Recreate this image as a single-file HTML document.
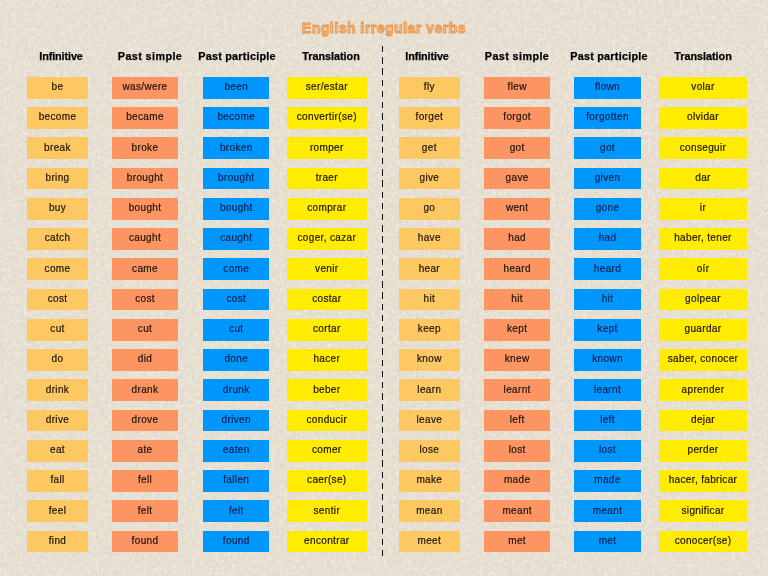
<!DOCTYPE html>
<html><head><meta charset="utf-8"><style>
html,body{margin:0;padding:0;}
body{width:768px;height:576px;position:relative;overflow:hidden;-webkit-font-smoothing:antialiased;background:#e5ddcf;font-family:"Liberation Sans",sans-serif;}
.bg{position:absolute;left:0;top:0;width:768px;height:576px;}
.b{position:absolute;height:21.8px;}
.b span{will-change:transform;position:absolute;left:-10px;right:-10px;text-align:center;font-size:10px;line-height:10px;top:5.4px;color:#1e140c;-webkit-text-stroke:0.2px #1e140c;white-space:nowrap;letter-spacing:0.35px;}
.i{background:#fdc862;}
.s{background:#fc9562;}
.p{background:#0097fd;}
.p span{color:#082050;-webkit-text-stroke:0.2px #082050;}
.t{background:#ffec00;}
.h{will-change:transform;position:absolute;top:50px;width:120px;text-align:center;font-weight:bold;font-size:10.8px;line-height:12px;color:#000;-webkit-text-stroke:0.25px #000;white-space:nowrap;letter-spacing:-0.45px;}
.title{will-change:transform;position:absolute;left:250px;width:268px;top:19px;text-align:center;font-weight:bold;font-size:15.5px;line-height:18px;color:#f5bc82;-webkit-text-stroke:0.85px #e78f40;white-space:nowrap;letter-spacing:0.5px;transform:scaleX(0.91);transform-origin:50% 0;}
.dash{position:absolute;left:381.6px;top:45.8px;width:1.9px;height:511px;background:repeating-linear-gradient(to bottom,#111 0,#111 6.3px,transparent 6.3px,transparent 11.2px);}
</style></head><body>
<svg class="bg" width="768" height="576"><defs>
<filter id="nd" x="0" y="0" width="100%" height="100%"><feTurbulence type="fractalNoise" baseFrequency="0.8" numOctaves="2" seed="7"/><feColorMatrix type="matrix" values="0 0 0 0 0.55  0 0 0 0 0.49  0 0 0 0 0.43  3.0 0 0 0 -1.85"/></filter>
<filter id="nl" x="0" y="0" width="100%" height="100%"><feTurbulence type="fractalNoise" baseFrequency="0.25" numOctaves="3" seed="19"/><feColorMatrix type="matrix" values="0 0 0 0 0.96  0 0 0 0 0.94  0 0 0 0 0.90  0 1.0 0 0 -0.38"/></filter>
</defs><rect width="768" height="576" filter="url(#nl)"/><rect width="768" height="576" filter="url(#nd)"/></svg>
<div class="title">English irregular verbs</div>
<div class="h" style="left:0.7px;letter-spacing:-0.10px">Infinitive</div>
<div class="h" style="left:89.7px;letter-spacing:0.40px">Past simple</div>
<div class="h" style="left:176.5px;letter-spacing:0.25px">Past participle</div>
<div class="h" style="left:271.2px;letter-spacing:0.00px">Translation</div>
<div class="h" style="left:367.1px;letter-spacing:-0.10px">Infinitive</div>
<div class="h" style="left:457.1px;letter-spacing:0.40px">Past simple</div>
<div class="h" style="left:548.6px;letter-spacing:0.25px">Past participle</div>
<div class="h" style="left:643.0px;letter-spacing:0.00px">Translation</div>
<div class="dash"></div>
<div class="b i" style="left:27.0px;top:76.9px;width:61.0px"><span>be</span></div>
<div class="b s" style="left:112.0px;top:76.9px;width:66.0px"><span>was/were</span></div>
<div class="b p" style="left:202.5px;top:76.9px;width:66.5px"><span>been</span></div>
<div class="b t" style="left:287.0px;top:76.9px;width:79.6px"><span>ser/estar</span></div>
<div class="b i" style="left:27.0px;top:107.1px;width:61.0px"><span>become</span></div>
<div class="b s" style="left:112.0px;top:107.1px;width:66.0px"><span>became</span></div>
<div class="b p" style="left:202.5px;top:107.1px;width:66.5px"><span>become</span></div>
<div class="b t" style="left:287.0px;top:107.1px;width:79.6px"><span>convertir(se)</span></div>
<div class="b i" style="left:27.0px;top:137.4px;width:61.0px"><span>break</span></div>
<div class="b s" style="left:112.0px;top:137.4px;width:66.0px"><span>broke</span></div>
<div class="b p" style="left:202.5px;top:137.4px;width:66.5px"><span>broken</span></div>
<div class="b t" style="left:287.0px;top:137.4px;width:79.6px"><span>romper</span></div>
<div class="b i" style="left:27.0px;top:167.6px;width:61.0px"><span>bring</span></div>
<div class="b s" style="left:112.0px;top:167.6px;width:66.0px"><span>brought</span></div>
<div class="b p" style="left:202.5px;top:167.6px;width:66.5px"><span>brought</span></div>
<div class="b t" style="left:287.0px;top:167.6px;width:79.6px"><span>traer</span></div>
<div class="b i" style="left:27.0px;top:197.9px;width:61.0px"><span>buy</span></div>
<div class="b s" style="left:112.0px;top:197.9px;width:66.0px"><span>bought</span></div>
<div class="b p" style="left:202.5px;top:197.9px;width:66.5px"><span>bought</span></div>
<div class="b t" style="left:287.0px;top:197.9px;width:79.6px"><span>comprar</span></div>
<div class="b i" style="left:27.0px;top:228.1px;width:61.0px"><span>catch</span></div>
<div class="b s" style="left:112.0px;top:228.1px;width:66.0px"><span>caught</span></div>
<div class="b p" style="left:202.5px;top:228.1px;width:66.5px"><span>caught</span></div>
<div class="b t" style="left:287.0px;top:228.1px;width:79.6px"><span>coger, cazar</span></div>
<div class="b i" style="left:27.0px;top:258.3px;width:61.0px"><span>come</span></div>
<div class="b s" style="left:112.0px;top:258.3px;width:66.0px"><span>came</span></div>
<div class="b p" style="left:202.5px;top:258.3px;width:66.5px"><span>come</span></div>
<div class="b t" style="left:287.0px;top:258.3px;width:79.6px"><span>venir</span></div>
<div class="b i" style="left:27.0px;top:288.6px;width:61.0px"><span>cost</span></div>
<div class="b s" style="left:112.0px;top:288.6px;width:66.0px"><span>cost</span></div>
<div class="b p" style="left:202.5px;top:288.6px;width:66.5px"><span>cost</span></div>
<div class="b t" style="left:287.0px;top:288.6px;width:79.6px"><span>costar</span></div>
<div class="b i" style="left:27.0px;top:318.8px;width:61.0px"><span>cut</span></div>
<div class="b s" style="left:112.0px;top:318.8px;width:66.0px"><span>cut</span></div>
<div class="b p" style="left:202.5px;top:318.8px;width:66.5px"><span>cut</span></div>
<div class="b t" style="left:287.0px;top:318.8px;width:79.6px"><span>cortar</span></div>
<div class="b i" style="left:27.0px;top:349.1px;width:61.0px"><span>do</span></div>
<div class="b s" style="left:112.0px;top:349.1px;width:66.0px"><span>did</span></div>
<div class="b p" style="left:202.5px;top:349.1px;width:66.5px"><span>done</span></div>
<div class="b t" style="left:287.0px;top:349.1px;width:79.6px"><span>hacer</span></div>
<div class="b i" style="left:27.0px;top:379.3px;width:61.0px"><span>drink</span></div>
<div class="b s" style="left:112.0px;top:379.3px;width:66.0px"><span>drank</span></div>
<div class="b p" style="left:202.5px;top:379.3px;width:66.5px"><span>drunk</span></div>
<div class="b t" style="left:287.0px;top:379.3px;width:79.6px"><span>beber</span></div>
<div class="b i" style="left:27.0px;top:409.5px;width:61.0px"><span>drive</span></div>
<div class="b s" style="left:112.0px;top:409.5px;width:66.0px"><span>drove</span></div>
<div class="b p" style="left:202.5px;top:409.5px;width:66.5px"><span>driven</span></div>
<div class="b t" style="left:287.0px;top:409.5px;width:79.6px"><span>conducir</span></div>
<div class="b i" style="left:27.0px;top:439.8px;width:61.0px"><span>eat</span></div>
<div class="b s" style="left:112.0px;top:439.8px;width:66.0px"><span>ate</span></div>
<div class="b p" style="left:202.5px;top:439.8px;width:66.5px"><span>eaten</span></div>
<div class="b t" style="left:287.0px;top:439.8px;width:79.6px"><span>comer</span></div>
<div class="b i" style="left:27.0px;top:470.0px;width:61.0px"><span>fall</span></div>
<div class="b s" style="left:112.0px;top:470.0px;width:66.0px"><span>fell</span></div>
<div class="b p" style="left:202.5px;top:470.0px;width:66.5px"><span>fallen</span></div>
<div class="b t" style="left:287.0px;top:470.0px;width:79.6px"><span>caer(se)</span></div>
<div class="b i" style="left:27.0px;top:500.3px;width:61.0px"><span>feel</span></div>
<div class="b s" style="left:112.0px;top:500.3px;width:66.0px"><span>felt</span></div>
<div class="b p" style="left:202.5px;top:500.3px;width:66.5px"><span>felt</span></div>
<div class="b t" style="left:287.0px;top:500.3px;width:79.6px"><span>sentir</span></div>
<div class="b i" style="left:27.0px;top:530.5px;width:61.0px"><span>find</span></div>
<div class="b s" style="left:112.0px;top:530.5px;width:66.0px"><span>found</span></div>
<div class="b p" style="left:202.5px;top:530.5px;width:66.5px"><span>found</span></div>
<div class="b t" style="left:287.0px;top:530.5px;width:79.6px"><span>encontrar</span></div>
<div class="b i" style="left:399.2px;top:76.9px;width:60.7px"><span>fly</span></div>
<div class="b s" style="left:483.7px;top:76.9px;width:66.3px"><span>flew</span></div>
<div class="b p" style="left:574.4px;top:76.9px;width:67.0px"><span>flown</span></div>
<div class="b t" style="left:659.0px;top:76.9px;width:88.0px"><span>volar</span></div>
<div class="b i" style="left:399.2px;top:107.1px;width:60.7px"><span>forget</span></div>
<div class="b s" style="left:483.7px;top:107.1px;width:66.3px"><span>forgot</span></div>
<div class="b p" style="left:574.4px;top:107.1px;width:67.0px"><span>forgotten</span></div>
<div class="b t" style="left:659.0px;top:107.1px;width:88.0px"><span>olvidar</span></div>
<div class="b i" style="left:399.2px;top:137.4px;width:60.7px"><span>get</span></div>
<div class="b s" style="left:483.7px;top:137.4px;width:66.3px"><span>got</span></div>
<div class="b p" style="left:574.4px;top:137.4px;width:67.0px"><span>got</span></div>
<div class="b t" style="left:659.0px;top:137.4px;width:88.0px"><span>conseguir</span></div>
<div class="b i" style="left:399.2px;top:167.6px;width:60.7px"><span>give</span></div>
<div class="b s" style="left:483.7px;top:167.6px;width:66.3px"><span>gave</span></div>
<div class="b p" style="left:574.4px;top:167.6px;width:67.0px"><span>given</span></div>
<div class="b t" style="left:659.0px;top:167.6px;width:88.0px"><span>dar</span></div>
<div class="b i" style="left:399.2px;top:197.9px;width:60.7px"><span>go</span></div>
<div class="b s" style="left:483.7px;top:197.9px;width:66.3px"><span>went</span></div>
<div class="b p" style="left:574.4px;top:197.9px;width:67.0px"><span>gone</span></div>
<div class="b t" style="left:659.0px;top:197.9px;width:88.0px"><span>ir</span></div>
<div class="b i" style="left:399.2px;top:228.1px;width:60.7px"><span>have</span></div>
<div class="b s" style="left:483.7px;top:228.1px;width:66.3px"><span>had</span></div>
<div class="b p" style="left:574.4px;top:228.1px;width:67.0px"><span>had</span></div>
<div class="b t" style="left:659.0px;top:228.1px;width:88.0px"><span>haber, tener</span></div>
<div class="b i" style="left:399.2px;top:258.3px;width:60.7px"><span>hear</span></div>
<div class="b s" style="left:483.7px;top:258.3px;width:66.3px"><span>heard</span></div>
<div class="b p" style="left:574.4px;top:258.3px;width:67.0px"><span>heard</span></div>
<div class="b t" style="left:659.0px;top:258.3px;width:88.0px"><span>oír</span></div>
<div class="b i" style="left:399.2px;top:288.6px;width:60.7px"><span>hit</span></div>
<div class="b s" style="left:483.7px;top:288.6px;width:66.3px"><span>hit</span></div>
<div class="b p" style="left:574.4px;top:288.6px;width:67.0px"><span>hit</span></div>
<div class="b t" style="left:659.0px;top:288.6px;width:88.0px"><span>golpear</span></div>
<div class="b i" style="left:399.2px;top:318.8px;width:60.7px"><span>keep</span></div>
<div class="b s" style="left:483.7px;top:318.8px;width:66.3px"><span>kept</span></div>
<div class="b p" style="left:574.4px;top:318.8px;width:67.0px"><span>kept</span></div>
<div class="b t" style="left:659.0px;top:318.8px;width:88.0px"><span>guardar</span></div>
<div class="b i" style="left:399.2px;top:349.1px;width:60.7px"><span>know</span></div>
<div class="b s" style="left:483.7px;top:349.1px;width:66.3px"><span>knew</span></div>
<div class="b p" style="left:574.4px;top:349.1px;width:67.0px"><span>known</span></div>
<div class="b t" style="left:659.0px;top:349.1px;width:88.0px"><span>saber, conocer</span></div>
<div class="b i" style="left:399.2px;top:379.3px;width:60.7px"><span>learn</span></div>
<div class="b s" style="left:483.7px;top:379.3px;width:66.3px"><span>learnt</span></div>
<div class="b p" style="left:574.4px;top:379.3px;width:67.0px"><span>learnt</span></div>
<div class="b t" style="left:659.0px;top:379.3px;width:88.0px"><span>aprender</span></div>
<div class="b i" style="left:399.2px;top:409.5px;width:60.7px"><span>leave</span></div>
<div class="b s" style="left:483.7px;top:409.5px;width:66.3px"><span>left</span></div>
<div class="b p" style="left:574.4px;top:409.5px;width:67.0px"><span>left</span></div>
<div class="b t" style="left:659.0px;top:409.5px;width:88.0px"><span>dejar</span></div>
<div class="b i" style="left:399.2px;top:439.8px;width:60.7px"><span>lose</span></div>
<div class="b s" style="left:483.7px;top:439.8px;width:66.3px"><span>lost</span></div>
<div class="b p" style="left:574.4px;top:439.8px;width:67.0px"><span>lost</span></div>
<div class="b t" style="left:659.0px;top:439.8px;width:88.0px"><span>perder</span></div>
<div class="b i" style="left:399.2px;top:470.0px;width:60.7px"><span>make</span></div>
<div class="b s" style="left:483.7px;top:470.0px;width:66.3px"><span>made</span></div>
<div class="b p" style="left:574.4px;top:470.0px;width:67.0px"><span>made</span></div>
<div class="b t" style="left:659.0px;top:470.0px;width:88.0px"><span>hacer, fabricar</span></div>
<div class="b i" style="left:399.2px;top:500.3px;width:60.7px"><span>mean</span></div>
<div class="b s" style="left:483.7px;top:500.3px;width:66.3px"><span>meant</span></div>
<div class="b p" style="left:574.4px;top:500.3px;width:67.0px"><span>meant</span></div>
<div class="b t" style="left:659.0px;top:500.3px;width:88.0px"><span>significar</span></div>
<div class="b i" style="left:399.2px;top:530.5px;width:60.7px"><span>meet</span></div>
<div class="b s" style="left:483.7px;top:530.5px;width:66.3px"><span>met</span></div>
<div class="b p" style="left:574.4px;top:530.5px;width:67.0px"><span>met</span></div>
<div class="b t" style="left:659.0px;top:530.5px;width:88.0px"><span>conocer(se)</span></div>
</body></html>
